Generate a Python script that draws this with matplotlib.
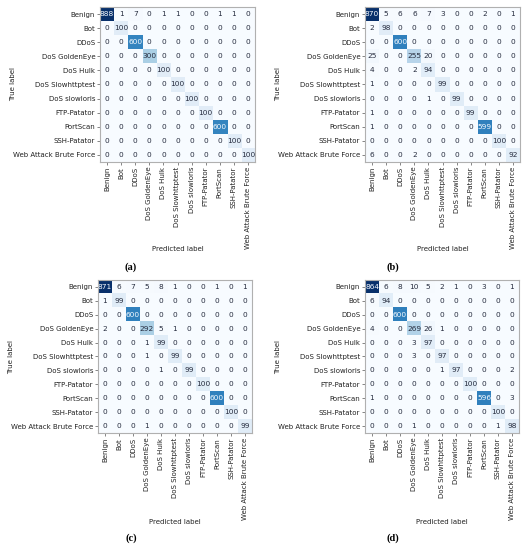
import matplotlib
matplotlib.use("Agg")
import matplotlib.pyplot as plt
import numpy as np

labels = ["Benign", "Bot", "DDoS", "DoS GoldenEye", "DoS Hulk", "DoS Slowhttptest",
          "DoS slowloris", "FTP-Patator", "PortScan", "SSH-Patator", "Web Attack Brute Force"]

cm_a = [
    [888, 1, 7, 0, 1, 1, 0, 0, 1, 1, 0],
    [0, 100, 0, 0, 0, 0, 0, 0, 0, 0, 0],
    [0, 0, 600, 0, 0, 0, 0, 0, 0, 0, 0],
    [0, 0, 0, 300, 0, 0, 0, 0, 0, 0, 0],
    [0, 0, 0, 0, 100, 0, 0, 0, 0, 0, 0],
    [0, 0, 0, 0, 0, 100, 0, 0, 0, 0, 0],
    [0, 0, 0, 0, 0, 0, 100, 0, 0, 0, 0],
    [0, 0, 0, 0, 0, 0, 0, 100, 0, 0, 0],
    [0, 0, 0, 0, 0, 0, 0, 0, 600, 0, 0],
    [0, 0, 0, 0, 0, 0, 0, 0, 0, 100, 0],
    [0, 0, 0, 0, 0, 0, 0, 0, 0, 0, 100],
]
cm_b = [
    [870, 5, 6, 6, 7, 3, 0, 0, 2, 0, 1],
    [2, 98, 0, 0, 0, 0, 0, 0, 0, 0, 0],
    [0, 0, 600, 0, 0, 0, 0, 0, 0, 0, 0],
    [25, 0, 0, 255, 20, 0, 0, 0, 0, 0, 0],
    [4, 0, 0, 2, 94, 0, 0, 0, 0, 0, 0],
    [1, 0, 0, 0, 0, 99, 0, 0, 0, 0, 0],
    [0, 0, 0, 0, 1, 0, 99, 0, 0, 0, 0],
    [1, 0, 0, 0, 0, 0, 0, 99, 0, 0, 0],
    [1, 0, 0, 0, 0, 0, 0, 0, 599, 0, 0],
    [0, 0, 0, 0, 0, 0, 0, 0, 0, 100, 0],
    [6, 0, 0, 2, 0, 0, 0, 0, 0, 0, 92],
]
cm_c = [
    [871, 6, 7, 5, 8, 1, 0, 0, 1, 0, 1],
    [1, 99, 0, 0, 0, 0, 0, 0, 0, 0, 0],
    [0, 0, 600, 0, 0, 0, 0, 0, 0, 0, 0],
    [2, 0, 0, 292, 5, 1, 0, 0, 0, 0, 0],
    [0, 0, 0, 1, 99, 0, 0, 0, 0, 0, 0],
    [0, 0, 0, 1, 0, 99, 0, 0, 0, 0, 0],
    [0, 0, 0, 0, 1, 0, 99, 0, 0, 0, 0],
    [0, 0, 0, 0, 0, 0, 0, 100, 0, 0, 0],
    [0, 0, 0, 0, 0, 0, 0, 0, 600, 0, 0],
    [0, 0, 0, 0, 0, 0, 0, 0, 0, 100, 0],
    [0, 0, 0, 1, 0, 0, 0, 0, 0, 0, 99],
]
cm_d = [
    [864, 6, 8, 10, 5, 2, 1, 0, 3, 0, 1],
    [6, 94, 0, 0, 0, 0, 0, 0, 0, 0, 0],
    [0, 0, 600, 0, 0, 0, 0, 0, 0, 0, 0],
    [4, 0, 0, 269, 26, 1, 0, 0, 0, 0, 0],
    [0, 0, 0, 3, 97, 0, 0, 0, 0, 0, 0],
    [0, 0, 0, 3, 0, 97, 0, 0, 0, 0, 0],
    [0, 0, 0, 0, 0, 1, 97, 0, 0, 0, 2],
    [0, 0, 0, 0, 0, 0, 0, 100, 0, 0, 0],
    [1, 0, 0, 0, 0, 0, 0, 0, 596, 0, 3],
    [0, 0, 0, 0, 0, 0, 0, 0, 0, 100, 0],
    [0, 0, 0, 1, 0, 0, 0, 0, 0, 1, 98],
]
captions = ["(a)", "(b)", "(c)", "(d)"]

W, H = 529, 550
fig = plt.figure(figsize=(W / 100, H / 100), dpi=100)

# pixel boxes: left, top, right, bottom
boxes = [(100, 7, 255, 162), (365, 7, 520, 162),
         (98, 280, 252, 433), (365, 280, 519, 433)]
cap_pos = [(131, 267), (393, 267), (131, 538), (393, 538)]

cmap = plt.get_cmap("Blues")
fs = 5.0
dark_text = "#262c3e"
for cm, box, cap, cp in zip([cm_a, cm_b, cm_c, cm_d], boxes, captions, cap_pos):
    m = np.array(cm)
    l, t, r, b = box
    ax = fig.add_axes([l / W, 1 - b / H, (r - l) / W, (b - t) / H])
    ax.imshow(m, cmap=cmap, interpolation="nearest", aspect="auto")
    thresh = (m.max() + m.min()) / 2.0
    light_text = cmap(0.0)
    n = m.shape[0]
    for i in range(n):
        for j in range(n):
            col = dark_text if m[i, j] < thresh else light_text
            ax.text(j, i, str(m[i, j]), ha="center", va="center", color=col,
                    fontsize=fs + 0.3)
    ax.set_xticks(range(n))
    ax.set_yticks(range(n))
    ax.set_xticklabels(labels, rotation=90, fontsize=fs)
    ax.set_yticklabels(labels, fontsize=fs)
    ax.tick_params(length=2, width=0.5, pad=1.5, colors="#555555", labelcolor="#222222")
    for s in ax.spines.values():
        s.set_color("#b0b0b0")
        s.set_linewidth(0.8)
    fig.text((l - 87) / W, 1 - (t + b) / 2 / H, "True label", rotation=90,
             ha="center", va="center", fontsize=fs, color="#222222")
    fig.text((l + r) / 2 / W, 1 - (t + 242) / H, "Predicted label",
             ha="center", va="center", fontsize=fs, color="#222222")
    fig.text(cp[0] / W, 1 - cp[1] / H, cap, ha="center", va="center",
             fontsize=7.5, fontweight="bold", family="Liberation Serif")

fig.savefig("out.png", dpi=100)
